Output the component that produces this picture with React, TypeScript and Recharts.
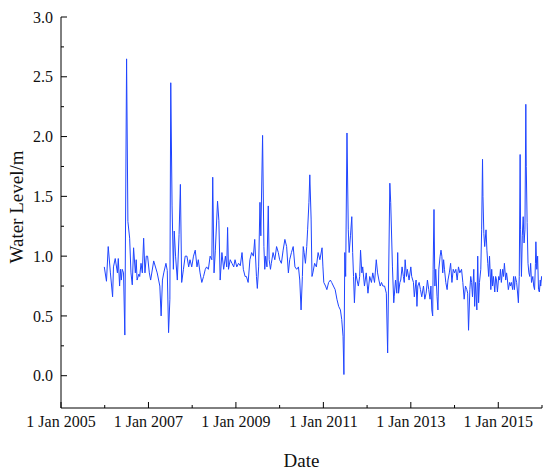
import { LineChart, Line, XAxis, YAxis, Label } from "recharts";

// decimal years
const dates = [
  2005.99, 2006.04, 2006.08, 2006.13, 2006.18, 2006.2, 2006.24, 2006.29, 2006.31, 2006.34,
  2006.36, 2006.38, 2006.4, 2006.43, 2006.46, 2006.5, 2006.53, 2006.57, 2006.6, 2006.63,
  2006.66, 2006.7, 2006.72, 2006.74, 2006.78, 2006.8, 2006.83, 2006.86, 2006.89, 2006.92,
  2006.95, 2006.98, 2007.02, 2007.05, 2007.12, 2007.2, 2007.26, 2007.29, 2007.32, 2007.35,
  2007.4, 2007.43, 2007.46, 2007.49, 2007.51, 2007.54, 2007.57, 2007.59, 2007.62, 2007.66,
  2007.7, 2007.73, 2007.76, 2007.8, 2007.84, 2007.88, 2007.92, 2007.95, 2007.99, 2008.03,
  2008.07, 2008.11, 2008.14, 2008.18, 2008.22, 2008.26, 2008.3, 2008.33, 2008.37, 2008.41,
  2008.45, 2008.47, 2008.5, 2008.53, 2008.58, 2008.61, 2008.64, 2008.68, 2008.72, 2008.76,
  2008.79, 2008.81, 2008.83, 2008.87, 2008.91, 2008.95, 2008.98, 2009.02, 2009.06, 2009.1,
  2009.14, 2009.17, 2009.21, 2009.24, 2009.28, 2009.32, 2009.36, 2009.4, 2009.43, 2009.47,
  2009.49, 2009.52, 2009.55, 2009.57, 2009.61, 2009.64, 2009.66, 2009.68, 2009.71, 2009.74,
  2009.76, 2009.79, 2009.81, 2009.85, 2009.89, 2009.93, 2009.97, 2010.0, 2010.04, 2010.08,
  2010.12, 2010.16, 2010.2, 2010.23, 2010.27, 2010.31, 2010.35, 2010.39, 2010.43, 2010.46,
  2010.49, 2010.52, 2010.54, 2010.56, 2010.59, 2010.62, 2010.64, 2010.67, 2010.69, 2010.72,
  2010.74, 2010.76, 2010.8, 2010.84, 2010.88, 2010.92, 2010.97, 2010.99, 2011.01, 2011.05,
  2011.08, 2011.12, 2011.16, 2011.19, 2011.23, 2011.27, 2011.31, 2011.35, 2011.39, 2011.42,
  2011.45, 2011.47, 2011.49, 2011.51, 2011.54, 2011.57, 2011.59, 2011.62, 2011.65, 2011.67,
  2011.69, 2011.71, 2011.74, 2011.77, 2011.8, 2011.83, 2011.85, 2011.88, 2011.9, 2011.94,
  2011.98, 2012.02, 2012.06, 2012.1, 2012.13, 2012.17, 2012.21, 2012.24, 2012.27, 2012.3,
  2012.33, 2012.36, 2012.4, 2012.44, 2012.47, 2012.52, 2012.54, 2012.58, 2012.61, 2012.62,
  2012.65, 2012.68, 2012.7, 2012.72, 2012.75, 2012.77, 2012.8, 2012.83, 2012.85, 2012.87,
  2012.9, 2012.92, 2012.96, 2013.0, 2013.02, 2013.06, 2013.08, 2013.12, 2013.14, 2013.16,
  2013.19, 2013.22, 2013.25, 2013.29, 2013.32, 2013.35, 2013.38, 2013.41, 2013.44, 2013.46,
  2013.48, 2013.5, 2013.51, 2013.53, 2013.55, 2013.57, 2013.6, 2013.62, 2013.64, 2013.67,
  2013.69, 2013.71, 2013.73, 2013.75, 2013.77, 2013.8, 2013.83, 2013.85, 2013.88, 2013.91,
  2013.94, 2013.97, 2014.0, 2014.03, 2014.06, 2014.09, 2014.12, 2014.16, 2014.19, 2014.22,
  2014.25, 2014.28, 2014.3, 2014.32, 2014.35, 2014.37, 2014.39, 2014.41, 2014.44, 2014.46,
  2014.48, 2014.51, 2014.53, 2014.55, 2014.57, 2014.6, 2014.62, 2014.64, 2014.65, 2014.67,
  2014.69, 2014.72, 2014.74, 2014.76, 2014.78, 2014.8, 2014.83, 2014.85, 2014.87, 2014.89,
  2014.92, 2014.94, 2014.96, 2014.98, 2015.01, 2015.03, 2015.05, 2015.07, 2015.1, 2015.12,
  2015.14, 2015.17, 2015.19, 2015.21, 2015.23, 2015.26, 2015.28, 2015.3, 2015.33, 2015.35,
  2015.37, 2015.39, 2015.42, 2015.44, 2015.46, 2015.48, 2015.5, 2015.51, 2015.53, 2015.55,
  2015.57, 2015.59, 2015.61, 2015.63, 2015.64, 2015.66, 2015.68, 2015.7, 2015.72, 2015.74,
  2015.76, 2015.79, 2015.81, 2015.83, 2015.85, 2015.86, 2015.88, 2015.9, 2015.92, 2015.94,
  2015.96, 2015.97, 2015.99, 2016.0,
];

// water level in metres, same order as dates
const level = [
  0.91, 0.79, 1.08, 0.86, 0.66, 0.91, 0.98, 0.86, 0.98, 0.75,
  0.89, 0.8, 0.89, 0.86, 0.34, 2.65, 1.29, 1.15, 0.86, 0.76,
  1.07, 0.86, 0.97, 0.8, 0.85, 0.83, 0.94, 0.86, 1.15, 0.86,
  1.0, 1.0, 0.86, 0.8, 0.96, 0.86, 0.75, 0.5, 0.8, 0.86,
  0.94, 0.88, 0.36, 0.64, 2.45, 1.42, 0.89, 1.21, 1.0, 0.8,
  1.18, 1.6, 0.78, 0.89, 1.0, 1.0, 0.91, 0.97, 0.91, 1.0,
  1.05, 0.91, 0.97, 0.86, 0.78, 0.83, 0.89, 0.91, 0.89, 1.0,
  0.97, 1.66, 0.86, 1.05, 1.46, 1.3, 0.8, 1.03, 0.89, 1.0,
  0.91, 1.24, 0.89, 0.97, 0.94, 0.91, 0.97, 0.91, 0.94, 0.92,
  1.03, 0.89, 0.83, 0.83, 0.78, 0.97, 1.03, 1.0, 1.14, 0.83,
  0.73, 0.91, 1.45, 1.17, 2.01, 1.08, 0.89, 1.0, 0.91, 1.42,
  0.97, 0.89, 0.94, 1.03, 0.97, 1.08, 1.03, 0.97, 0.94, 1.05,
  1.14, 1.08, 0.86, 0.97, 1.03, 1.08, 0.91, 0.89, 0.91, 0.8,
  0.55, 0.83, 1.08, 1.03, 0.94, 1.08, 1.22, 1.45, 1.68, 1.31,
  0.83, 0.86, 0.94, 0.91, 1.03, 0.97, 1.07, 0.91, 0.78, 0.75,
  0.72, 0.78, 0.8, 0.78, 0.75, 0.72, 0.64, 0.58, 0.55, 0.47,
  0.33, 0.01, 1.03, 0.83, 2.03, 1.22, 1.03, 1.17, 1.33, 1.03,
  0.83, 0.61, 0.86, 0.8, 0.75, 0.83, 1.05, 0.86, 0.91, 0.75,
  0.86, 0.69, 0.83, 0.78, 0.86, 0.78, 0.97, 0.86, 0.8, 0.75,
  0.78, 0.75, 0.75, 0.69, 0.19, 1.61, 1.45, 0.91, 0.61, 0.66,
  0.8, 0.69, 1.03, 0.69, 0.78, 0.8, 0.91, 0.83, 0.78, 0.97,
  0.83, 0.89, 0.8, 0.91, 0.83, 0.78, 0.66, 0.8, 0.58, 0.75,
  0.78, 0.72, 0.66, 0.75, 0.64, 0.69, 0.8, 0.72, 0.64, 0.75,
  0.55, 0.5, 0.89, 1.39, 0.75, 0.89, 0.66, 0.55, 0.89, 1.0,
  1.05, 1.0, 0.86, 0.97, 0.89, 0.78, 0.72, 0.8, 0.86, 0.94,
  0.78, 0.89, 0.86, 0.89, 0.8, 0.91, 0.86, 0.89, 0.78, 0.64,
  0.75, 0.72, 0.69, 0.38, 0.72, 0.83, 0.78, 0.66, 0.89, 0.58,
  0.78, 0.55, 1.0, 0.61, 0.78, 0.89, 1.22, 1.81, 1.5, 1.19,
  1.08, 1.22, 1.05, 0.94, 0.83, 1.0, 0.72, 0.89, 0.75, 0.83,
  0.7, 0.83, 0.8, 0.7, 0.83, 0.8, 0.89, 0.78, 0.89, 0.83,
  0.94, 0.8, 0.86, 0.8, 0.72, 0.78, 0.75, 0.78, 0.72, 0.83,
  0.72, 0.83, 0.78, 0.7, 0.61, 0.83, 1.85, 1.22, 0.83, 1.17,
  1.33, 1.11, 1.22, 2.27, 1.75, 1.28, 0.94, 0.86, 0.83, 0.94,
  0.78, 0.83, 0.75, 0.72, 0.94, 1.12, 0.89, 1.0, 0.72, 0.7,
  0.8, 0.75, 0.83, 0.8,
];

const yearTicks = [2005, 2006, 2007, 2008, 2009, 2010, 2011, 2012, 2013, 2014, 2015, 2016];
const labelledYears = [2005, 2007, 2009, 2011, 2013, 2015];
const levelTicks = [0, 0.25, 0.5, 0.75, 1, 1.25, 1.5, 1.75, 2, 2.25, 2.5, 2.75, 3];
const labelledLevels = [0, 0.5, 1, 1.5, 2, 2.5, 3];

const data = dates.map((d, i) => ({ date: d, level: level[i] }));

const FONT = "'Liberation Serif', 'Times New Roman', serif";

const YearTick = ({ x, y, payload }: any) => {
  const major = labelledYears.includes(payload.value);
  return (
    <g>
      <line x1={x} x2={x} y1={y} y2={y - (major ? 6 : 3)} stroke="#000" />
      {major && (
        <text x={x} y={y + 18.5} textAnchor="middle" fontFamily={FONT} fontSize={16} fill="#111">
          {`1 Jan ${payload.value}`}
        </text>
      )}
    </g>
  );
};

const LevelTick = ({ x, y, payload }: any) => {
  const major = labelledLevels.includes(payload.value);
  return (
    <g>
      <line x1={x} x2={x + (major ? 6 : 3)} y1={y} y2={y} stroke="#000" />
      {major && (
        <text x={x - 8} y={y} dy="0.35em" textAnchor="end" fontFamily={FONT} fontSize={16} fill="#111">
          {payload.value.toFixed(1)}
        </text>
      )}
    </g>
  );
};

export default function App() {
  return (
    <div style={{ position: "absolute", left: 0, top: 0, background: "#fff" }}>
      <LineChart width={550} height={472} data={data} margin={{ top: 17, right: 8, bottom: 0, left: 0 }}>
        <XAxis
          dataKey="date"
          type="number"
          domain={[2005, 2016]}
          ticks={yearTicks}
          interval={0}
          allowDataOverflow
          height={64}
          tickSize={0}
          tickMargin={0}
          tickLine={false}
          axisLine={{ stroke: "#000" }}
          tick={<YearTick />}
        >
          <Label
            content={({ viewBox }: any) => (
              <text
                x={viewBox.x + viewBox.width / 2}
                y={viewBox.y + 59}
                textAnchor="middle"
                fontFamily={FONT}
                fontSize={19}
                fill="#111"
              >
                Date
              </text>
            )}
          />
        </XAxis>
        <YAxis
          type="number"
          domain={[-0.27, 3]}
          ticks={levelTicks}
          interval={0}
          allowDataOverflow
          width={61}
          tickSize={0}
          tickMargin={0}
          tickLine={false}
          axisLine={{ stroke: "#000" }}
          tick={<LevelTick />}
        >
          <Label
            content={() => (
              <text
                x={23}
                y={207}
                transform="rotate(-90 23 207)"
                textAnchor="middle"
                fontFamily={FONT}
                fontSize={19}
                fill="#111"
              >
                Water Level/m
              </text>
            )}
          />
        </YAxis>
        <Line
          type="linear"
          dataKey="level"
          stroke="#1f45ff"
          strokeWidth={1}
          dot={false}
          isAnimationActive={false}
        />
      </LineChart>
    </div>
  );
}
